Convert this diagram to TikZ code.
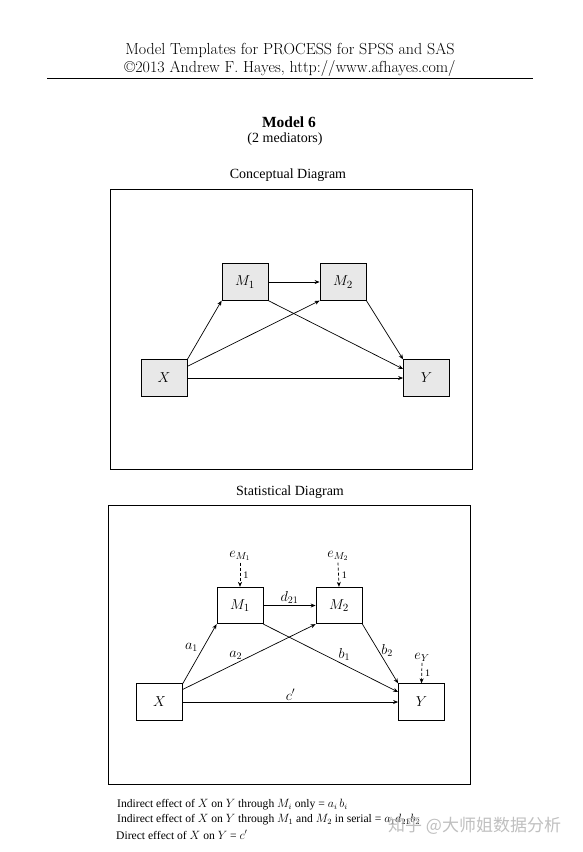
\documentclass[tikz,border=0pt]{standalone}
\usepackage{fontspec}
\newfontfamily\tnr{Liberation Serif}
\newfontfamily\cjk{Noto Sans CJK SC}
\usepackage{tikz}
\usetikzlibrary{
    arrows.meta,
    positioning
}
\tikzset{
    arr/.style={-{Stealth[length=5pt,width=4pt]}, line width=0.7pt},
    err/.style={arr, densely dashed},
    var/.style={draw, line width=0.8pt, minimum width=46pt, minimum height=36.5pt, inner sep=0pt, font=\tnr\fontsize{15}{17}\selectfont},
    cvar/.style={var, fill=gray!18},
    lab/.style={inner sep=1.5pt, font=\tnr\fontsize{14}{16}\selectfont},
    one/.style={inner sep=0pt, font=\tnr\fontsize{10}{11}\selectfont},
    ttext/.style={font=\tnr\fontsize{14}{16}\selectfont},
    efx/.style={anchor=west, inner sep=0pt, font=\tnr\fontsize{11.6}{13}\selectfont},
}
\begin{document}
\begin{tikzpicture}[x=1pt,y=-1pt]
    \useasboundingbox[fill=white] (0,0) rectangle (583,852);
    % header
    \node (hd1) at (290,50) {\fontsize{16}{18}\selectfont Model Templates for PROCESS for SPSS and SAS};
    \node (hd2) at (290,68) {\fontsize{16}{18}\selectfont \textcopyright2013 Andrew F. Hayes, http://www.afhayes.com/};
    \draw[line width=1pt] (47,78) -- (533,78);
    \node (ttl) at (289,122) {\tnr\bfseries\fontsize{15.5}{17}\selectfont Model 6};
    \node[ttext] (sub) at (285,139) {(2 mediators)};

    % conceptual diagram
    \node[ttext] (ctl) at (288,175) {Conceptual Diagram};
    \draw[line width=0.8pt] (110,189) rectangle (472,469);
    \node[cvar] (cX) at (164,378) {$X$};
    \node[cvar] (cM1) at (245,282) {$M_1$};
    \node[cvar] (cM2) at (343,282) {$M_2$};
    \node[cvar] (cY) at (426.5,378) {$Y$};
    \path[arr]
    (cX.north east) edge (cM1.south west)
    ([yshift=-7pt]cX.north east) edge (cM2.south west)
    (cM1.east) edge (cM2.west)
    (cM1.south east) edge ([yshift=9pt]cY.west)
    (cM2.south east) edge (cY.north west)
    (cX.east) edge (cY.west);

    % statistical diagram
    \node[ttext] (stl) at (290,492) {Statistical Diagram};
    \draw[line width=0.8pt] (108,505) rectangle (470,784);
    \node[var] (sX) at (159.5,702) {$X$};
    \node[var] (sM1) at (240,605.5) {$M_1$};
    \node[var] (sM2) at (339,605.5) {$M_2$};
    \node[var] (sY) at (421.5,702) {$Y$};
    \node[lab] (eM1) at (240,556) {$e_{M_1}$};
    \node[lab] (eM2) at (338,556) {$e_{M_2}$};
    \node[lab] (eY) at (422,657) {$e_Y$};
    \draw[err] (eM1.south) -- node[one, right=3pt] {1} (sM1.north);
    \draw[err] (eM2.south) -- node[one, right=3pt] {1} (sM2.north);
    \draw[err] (eY.south) -- node[one, right=3pt] {1} (sY.north);
    \path[arr]
    (sX.north east) edge node[lab, above left] {$a_1$} (sM1.south west)
    ([yshift=-6pt]sX.north east) edge node[lab, pos=0.45, above left=-2pt] {$a_2$} (sM2.south west)
    (sM1.east) edge node[lab, above] {$d_{21}$} (sM2.west)
    (sM1.south east) edge node[lab, pos=0.55, above right=-1pt] {$b_1$} ([yshift=10pt]sY.west)
    (sM2.south east) edge node[lab, pos=0.45, right=1pt] {$b_2$} (sY.north west)
    (sX.east) edge node[lab, above] {$c'$} (sY.west);

    % effects
    \node[efx] (ef1) at (117,805) {Indirect effect of $X$ on $Y$ through $M_i$ only = $a_i\,b_i$};
    \node[efx] (ef2) at (117,820) {Indirect effect of $X$ on $Y$ through $M_1$ and $M_2$ in serial = $a_1 d_{21} b_2$};
    \node[efx] (ef3) at (116,835) {Direct effect of $X$ on $Y$ = $c'$};
    \node[anchor=west, inner sep=0pt, text=gray!55, opacity=0.9] (wm) at (388,826) {\cjk\fontsize{17}{19}\selectfont 知乎 @大师姐数据分析};
\end{tikzpicture}
\end{document}
